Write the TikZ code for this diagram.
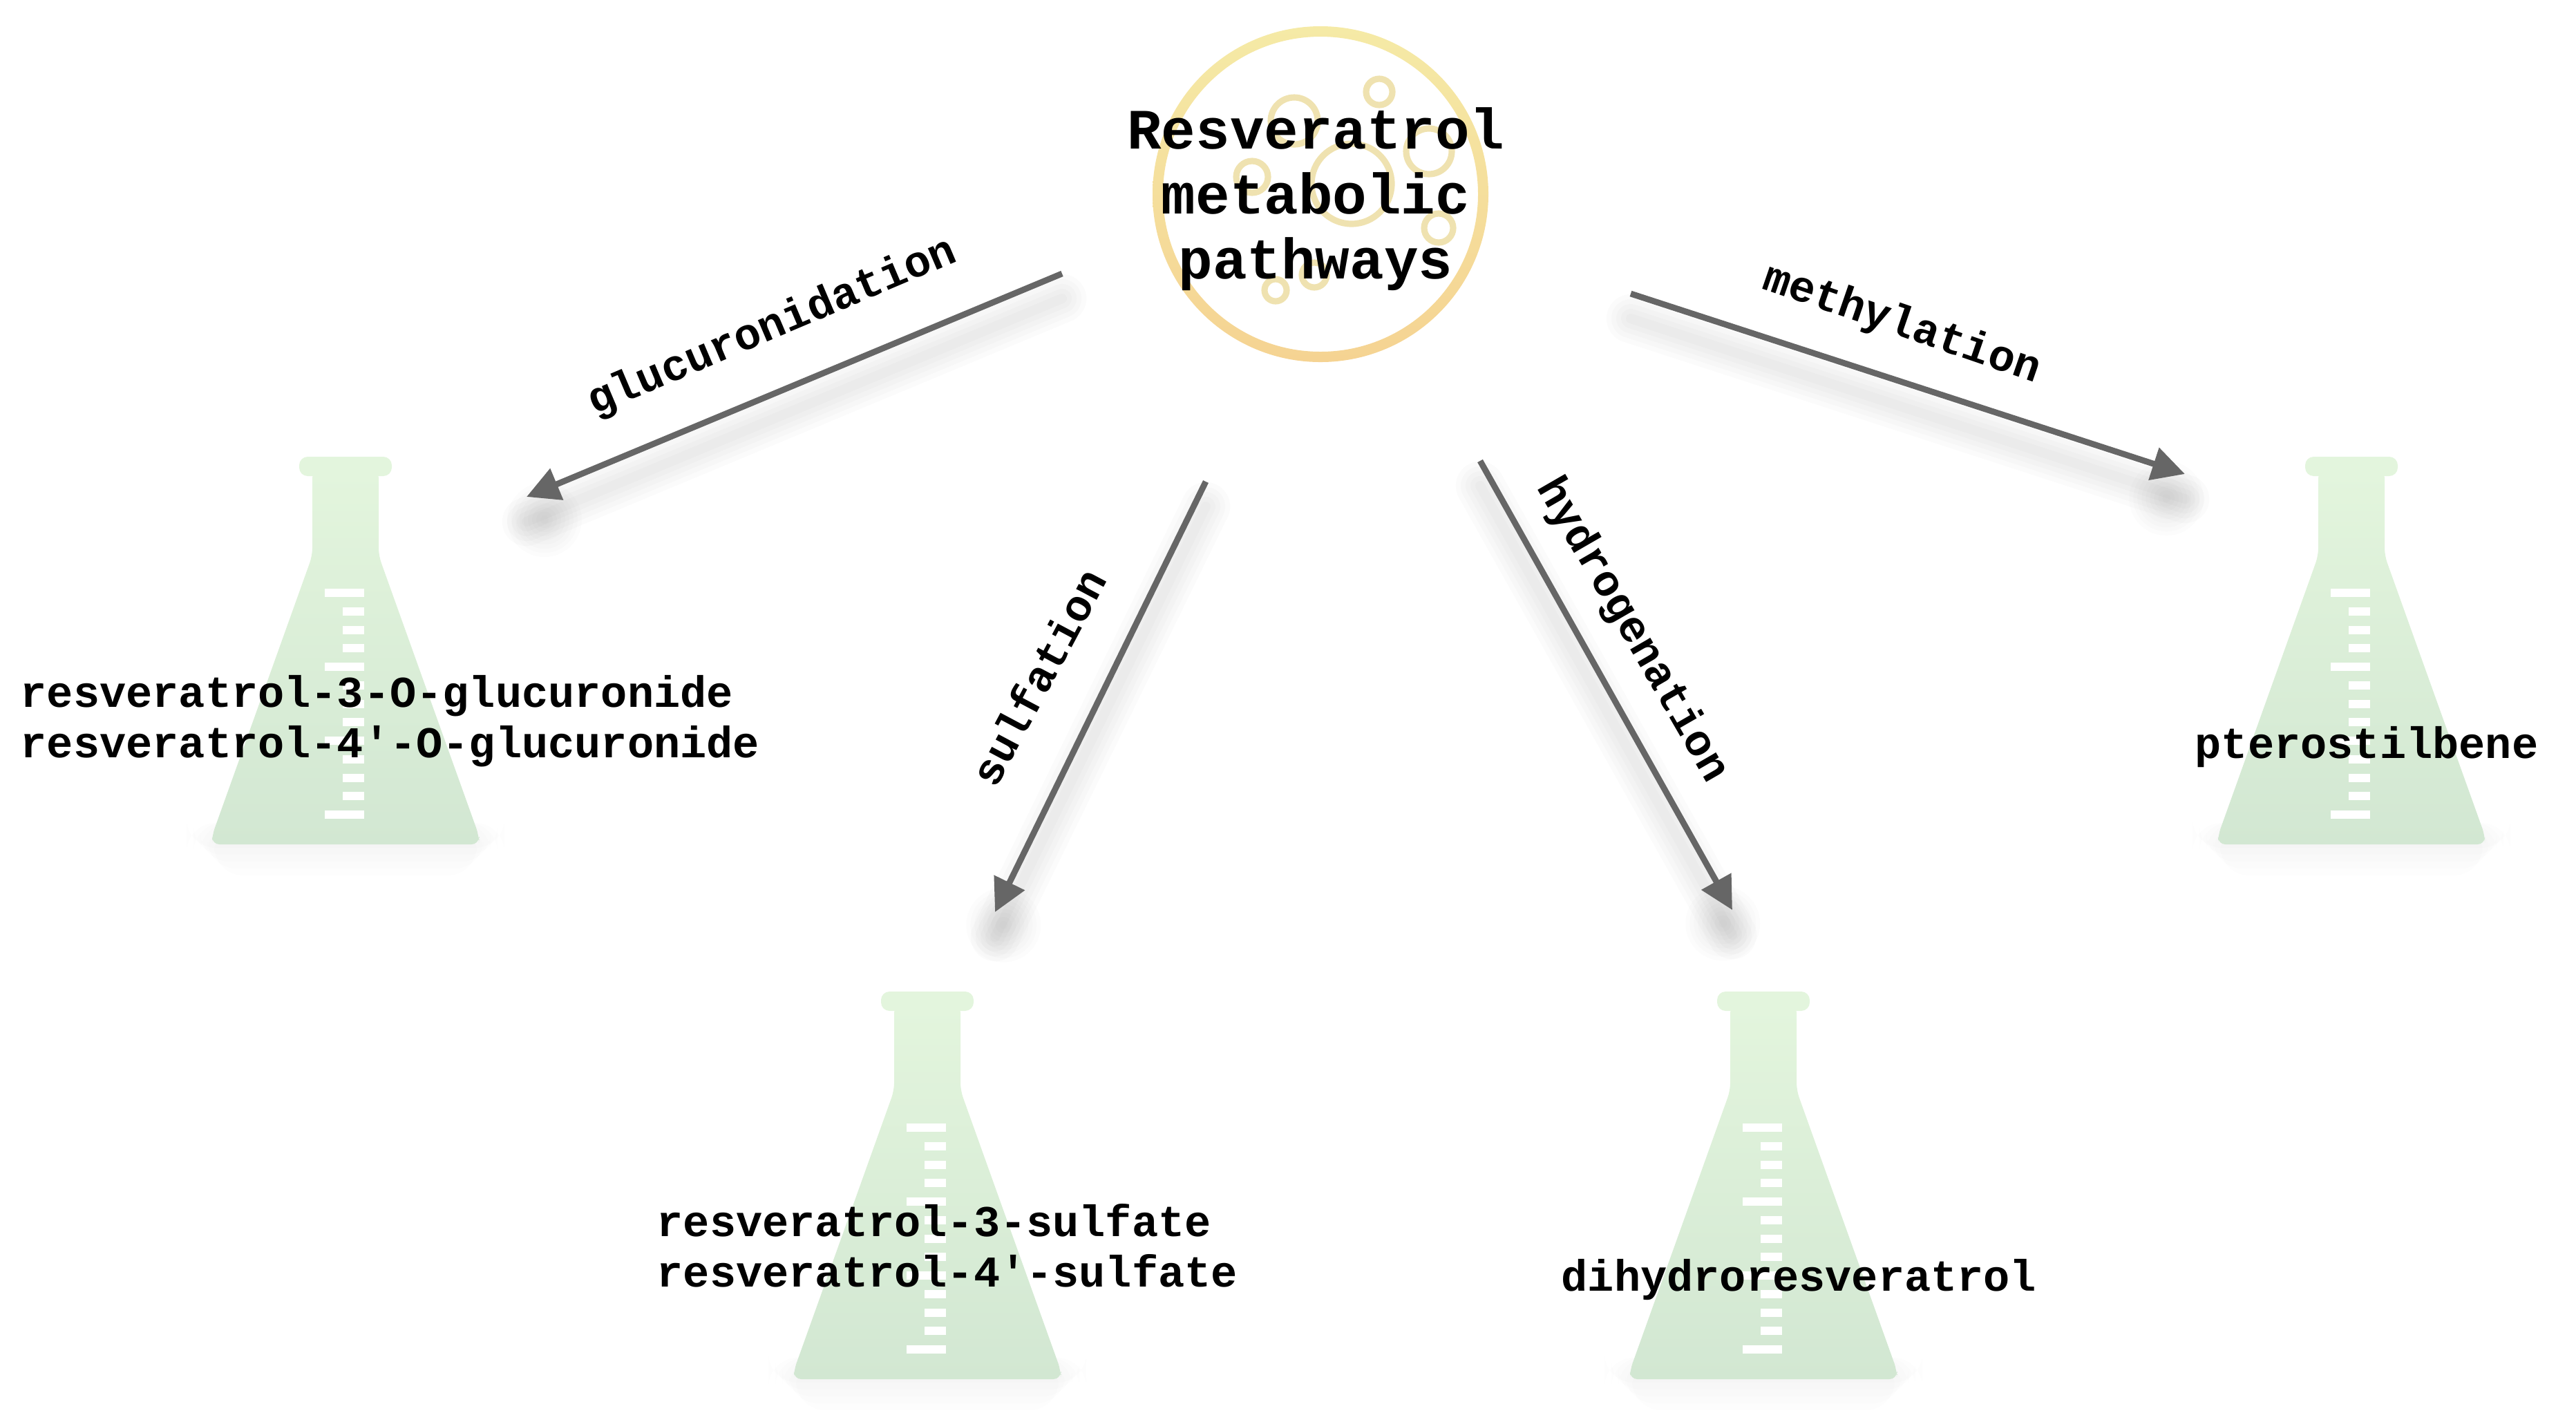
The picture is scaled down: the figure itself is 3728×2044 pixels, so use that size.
\documentclass[tikz,border=0pt]{standalone}
\usepackage{fontspec}
\setmonofont{Liberation Mono}
\usetikzlibrary{arrows.meta,calc}

\definecolor{arrowgray}{HTML}{666666}
\definecolor{flasktop}{HTML}{E3F5DD}
\definecolor{flaskbottom}{HTML}{D2E7D2}
\definecolor{ringtop}{HTML}{F5EAA6}
\definecolor{ringbottom}{HTML}{F5D392}
\definecolor{bubble}{HTML}{EFE2B0}

\tikzset{
  pathway/.style={draw=arrowgray, line width=2.5pt, -{Triangle[length=13.5pt, width=13.5pt]}},
  smudge/.style={black, opacity=0.016, line cap=round},
  blob/.style={black, opacity=0.011},
  bubblering/.style={draw=bubble, line width=2.6pt},
  tick/.style={white, line width=3.4pt},
  title/.style={font=\ttfamily\bfseries\fontsize{23.5}{26.7}\selectfont, align=center, inner sep=0pt},
  product/.style={font=\ttfamily\bfseries\fontsize{18.1}{20.8}\selectfont, align=left, inner sep=0pt},
  reaction/.style={font=\ttfamily\bfseries\fontsize{18.1}{20.8}\selectfont, inner sep=0pt},
  pics/flask/.style={code={
    % soft shadow under the base
    \foreach \w in {0,10,20,30,40}
      \fill[black, opacity=0.009, rounded corners=12pt] (-190-\w,530) rectangle (190+\w,606-\w);
    % glass
    \path[top color=flasktop, bottom color=flaskbottom, rounded corners=3pt]
      (-48,20) -- (-48,143) -- (-193,548) -- (-193,561) -- (193,561) -- (193,548)
      -- (48,143) -- (48,20) -- cycle;
    \fill[flasktop, rounded corners=3.5pt] (-67,0) rectangle (67,28);
    % scale marks
    \foreach \k in {0,4,8,12}
      \draw[tick] (-30,197+26.75*\k) -- (27,197+26.75*\k);
    \foreach \k in {1,2,3,5,6,7,9,10,11}
      \draw[tick] (-4,197+26.75*\k) -- (27,197+26.75*\k);
  }}
}

\begin{document}
\begin{tikzpicture}[x=0.01cm, y=-0.01cm]
  \useasboundingbox (0,0) rectangle (3728,2044);

  % Dish
  \path[top color=ringtop, bottom color=ringbottom, even odd rule]
    (1911,281) circle (243) (1911,281) circle (228);
  \draw[bubblering] (1956,266) circle (58);
  \draw[bubblering] (1873,175) circle (34);
  \draw[bubblering] (1996,133) circle (19);
  \draw[bubblering] (2068,219) circle (33);
  \draw[bubblering] (1812,256) circle (23);
  \draw[bubblering] (2082,330) circle (21);
  \draw[bubblering] (1846,420) circle (16);
  \draw[bubblering] (1902,398) circle (18);

  % Flasks
  \pic at (500,661) {flask};
  \pic at (1342,1435) {flask};
  \pic at (2552,1435) {flask};
  \pic at (3403,661) {flask};

  % Arrow ends
  \coordinate (glucFrom) at (1537,396);
  \coordinate (glucTo) at (762,719);
  \coordinate (sulfFrom) at (1745,697);
  \coordinate (sulfTo) at (1440,1320);
  \coordinate (hydrFrom) at (2142,667);
  \coordinate (hydrTo) at (2507,1317);
  \coordinate (methFrom) at (2360,425);
  \coordinate (methTo) at (3162,686);

  % Arrows
  \foreach \a/\b in {glucFrom/glucTo, sulfFrom/sulfTo, hydrFrom/hydrTo, methFrom/methTo} {
    \foreach \w in {4,8,12,16,20}
      \draw[smudge, line width=\w pt] ($(\a)+(0,36)$) -- ($(\b)+(0,36)$);
    \foreach \r in {6,12,...,54}
      \fill[blob] ($(\b)!8pt!(\a)+(0,44)$) circle (\r);
    \draw[pathway] (\a) -- (\b);
  }

  % Labels
  \node[title] (resv) at (1904,288) {Resveratrol\\metabolic\\pathways};
  \node[reaction, rotate=23] (gluc) at (1118,474) {glucuronidation};
  \node[reaction, rotate=62] (sulf) at (1502,980) {sulfation};
  \node[reaction, rotate=-60] (hydr) at (2362,912) {hydrogenation};
  \node[reaction, rotate=-19] (meth) at (2752,470) {methylation};

  \node[product, anchor=west] (glucprod) at (29,1044) {resveratrol-3-O-glucuronide\\resveratrol-4′-O-glucuronide};
  \node[product, anchor=west] (sulfprod) at (950,1803) {resveratrol-3-sulfate\\resveratrol-4′-sulfate};
  \node[product, anchor=west] (hydrprod) at (2259,1852) {dihydroresveratrol};
  \node[product, anchor=west] (pteroprod) at (3176,1081) {pterostilbene};
\end{tikzpicture}
\end{document}
